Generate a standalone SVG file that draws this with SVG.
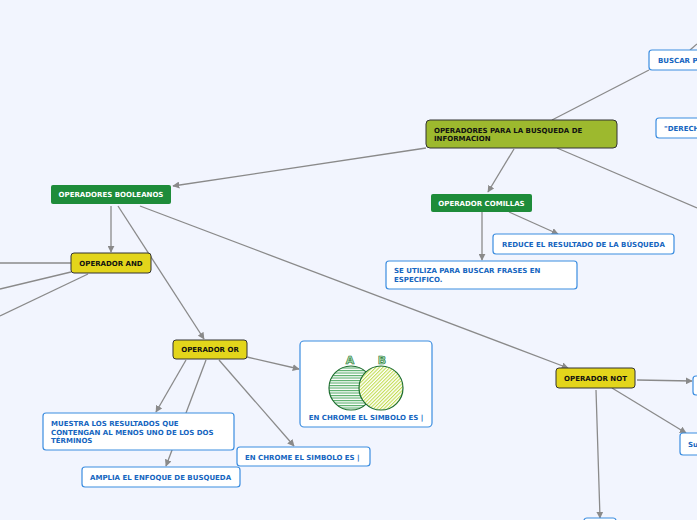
<svg xmlns="http://www.w3.org/2000/svg" width="697" height="520" viewBox="0 0 697 520">
<defs>
<style>
text{font-family:"DejaVu Sans",Verdana,sans-serif;font-weight:bold;font-size:7px}
.w rect{fill:#fff;stroke:#3b8de0;stroke-width:1.2}
.w text{fill:#1565c0}
.g rect{fill:#1e8c3a}
.g text{fill:#fff}
.y rect{fill:#e3d51b;stroke:#333;stroke-width:1}
.y text{fill:#111}
#conn line{stroke:#8a8a8a;stroke-width:1.3}
.a{marker-end:url(#ar)}
</style>
<marker id="ar" viewBox="0 0 10 10" refX="9" refY="5" markerWidth="7" markerHeight="7" orient="auto" markerUnits="userSpaceOnUse"><path d="M0,0L10,5L0,10z" fill="#8a8a8a"/></marker>
<pattern id="hA" width="4" height="2.5" patternUnits="userSpaceOnUse"><rect width="4" height="2.5" fill="#fff"/><line x1="0" y1="0.6" x2="4" y2="0.6" stroke="#2e9a46" stroke-width="0.9"/></pattern>
<pattern id="hB" width="2.5" height="2.5" patternUnits="userSpaceOnUse" patternTransform="rotate(-45)"><rect width="2.5" height="2.5" fill="#fff"/><line x1="0" y1="0.6" x2="2.5" y2="0.6" stroke="#b6d62c" stroke-width="0.9"/></pattern>
</defs>
<rect width="697" height="520" fill="#f2f5fe"/>
<g id="conn">
<line x1="552" y1="120" x2="649" y2="70"/>
<line x1="690" y1="50" x2="697" y2="44"/>
<line class="a" x1="426" y1="148" x2="173" y2="186"/>
<line class="a" x1="514" y1="149" x2="488" y2="192"/>
<line x1="557" y1="148" x2="697" y2="208"/>
<line class="a" x1="509" y1="212" x2="558" y2="234"/>
<line class="a" x1="482" y1="212" x2="482" y2="260"/>
<line class="a" x1="111" y1="206" x2="111" y2="252"/>
<line class="a" x1="118" y1="206" x2="204" y2="339"/>
<line class="a" x1="140" y1="206" x2="568" y2="368"/>
<line x1="71" y1="263" x2="0" y2="263"/>
<line x1="71" y1="272" x2="0" y2="289"/>
<line x1="88" y1="274" x2="0" y2="316"/>
<line class="a" x1="186" y1="360" x2="156" y2="412"/>
<line class="a" x1="206" y1="360" x2="166" y2="466"/>
<line class="a" x1="219" y1="360" x2="294" y2="446"/>
<line class="a" x1="247" y1="357" x2="299" y2="369"/>
<line class="a" x1="637" y1="380" x2="692" y2="381"/>
<line class="a" x1="612" y1="388" x2="686" y2="433"/>
<line class="a" x1="596" y1="390" x2="600" y2="518"/>
</g>
<g id="root"><rect x="426" y="120" width="191" height="28" rx="4" fill="#9db92e" stroke="#333"/><text x="434" y="133" fill="#111">OPERADORES PARA LA BUSQUEDA DE</text><text x="434" y="141" fill="#111">INFORMACION</text></g>
<g id="buscar" class="w"><rect x="649" y="50" width="60" height="20" rx="3"/><text x="658" y="63">BUSCAR P</text></g>
<g id="derech" class="w"><rect x="656" y="118" width="55" height="20" rx="3"/><text x="664" y="131">"DERECH</text></g>
<g id="booleanos" class="g"><rect x="51" y="185" width="120" height="19" rx="2"/><text x="111" y="197" text-anchor="middle">OPERADORES BOOLEANOS</text></g>
<g id="comillas" class="g"><rect x="431" y="194" width="101" height="18" rx="2"/><text x="481.5" y="206" text-anchor="middle">OPERADOR COMILLAS</text></g>
<g id="reduce" class="w"><rect x="493" y="234" width="181" height="20" rx="3"/><text x="502" y="247">REDUCE EL RESULTADO DE LA BÚSQUEDA</text></g>
<g id="frases" class="w"><rect x="386" y="261" width="191" height="28" rx="3"/><text x="394" y="273">SE UTILIZA PARA BUSCAR FRASES EN</text><text x="394" y="282">ESPECIFICO.</text></g>
<g id="and" class="y"><rect x="71" y="253" width="80" height="20" rx="3"/><text x="111" y="266" text-anchor="middle">OPERADOR AND</text></g>
<g id="or" class="y"><rect x="173" y="340" width="74" height="19" rx="3"/><text x="210" y="352" text-anchor="middle">OPERADOR OR</text></g>
<g id="venn" class="w"><rect x="300" y="341" width="132" height="86" rx="4"/>
<circle cx="351" cy="388" r="22" fill="url(#hA)" stroke="#1e6e30" stroke-width="1.2"/>
<circle cx="381" cy="388" r="22" fill="url(#hB)" stroke="#1e6e30" stroke-width="1.2"/>
<text x="350" y="364" text-anchor="middle" style="fill:#a7e0b0;stroke:#1e6e30;stroke-width:0.6;font-size:11px">A</text>
<text x="382" y="364" text-anchor="middle" style="fill:#a7e0b0;stroke:#1e6e30;stroke-width:0.6;font-size:11px">B</text>
<text x="366" y="420" text-anchor="middle">EN CHROME EL SIMBOLO ES |</text></g>
<g id="muestra" class="w"><rect x="43" y="413" width="191" height="37" rx="3"/><text x="51" y="426">MUESTRA LOS RESULTADOS QUE</text><text x="51" y="435">CONTENGAN AL MENOS UNO DE LOS DOS</text><text x="51" y="443">TÉRMINOS</text></g>
<g id="amplia" class="w"><rect x="82" y="467" width="158" height="20" rx="3"/><text x="90" y="480">AMPLIA EL ENFOQUE DE BUSQUEDA</text></g>
<g id="chrome" class="w"><rect x="237" y="447" width="133" height="19" rx="3"/><text x="245" y="460">EN CHROME EL SIMBOLO ES |</text></g>
<g id="not" class="y"><rect x="556" y="368" width="79" height="20" rx="3"/><text x="595.5" y="381" text-anchor="middle">OPERADOR NOT</text></g>
<g id="n1" class="w"><rect x="693" y="376" width="20" height="19" rx="3"/></g>
<g id="n2" class="w"><rect x="680" y="433" width="30" height="22" rx="3"/><text x="688" y="447">Su</text></g>
<g id="n3" class="w"><rect x="584" y="518" width="32" height="10" rx="3"/></g>
</svg>
